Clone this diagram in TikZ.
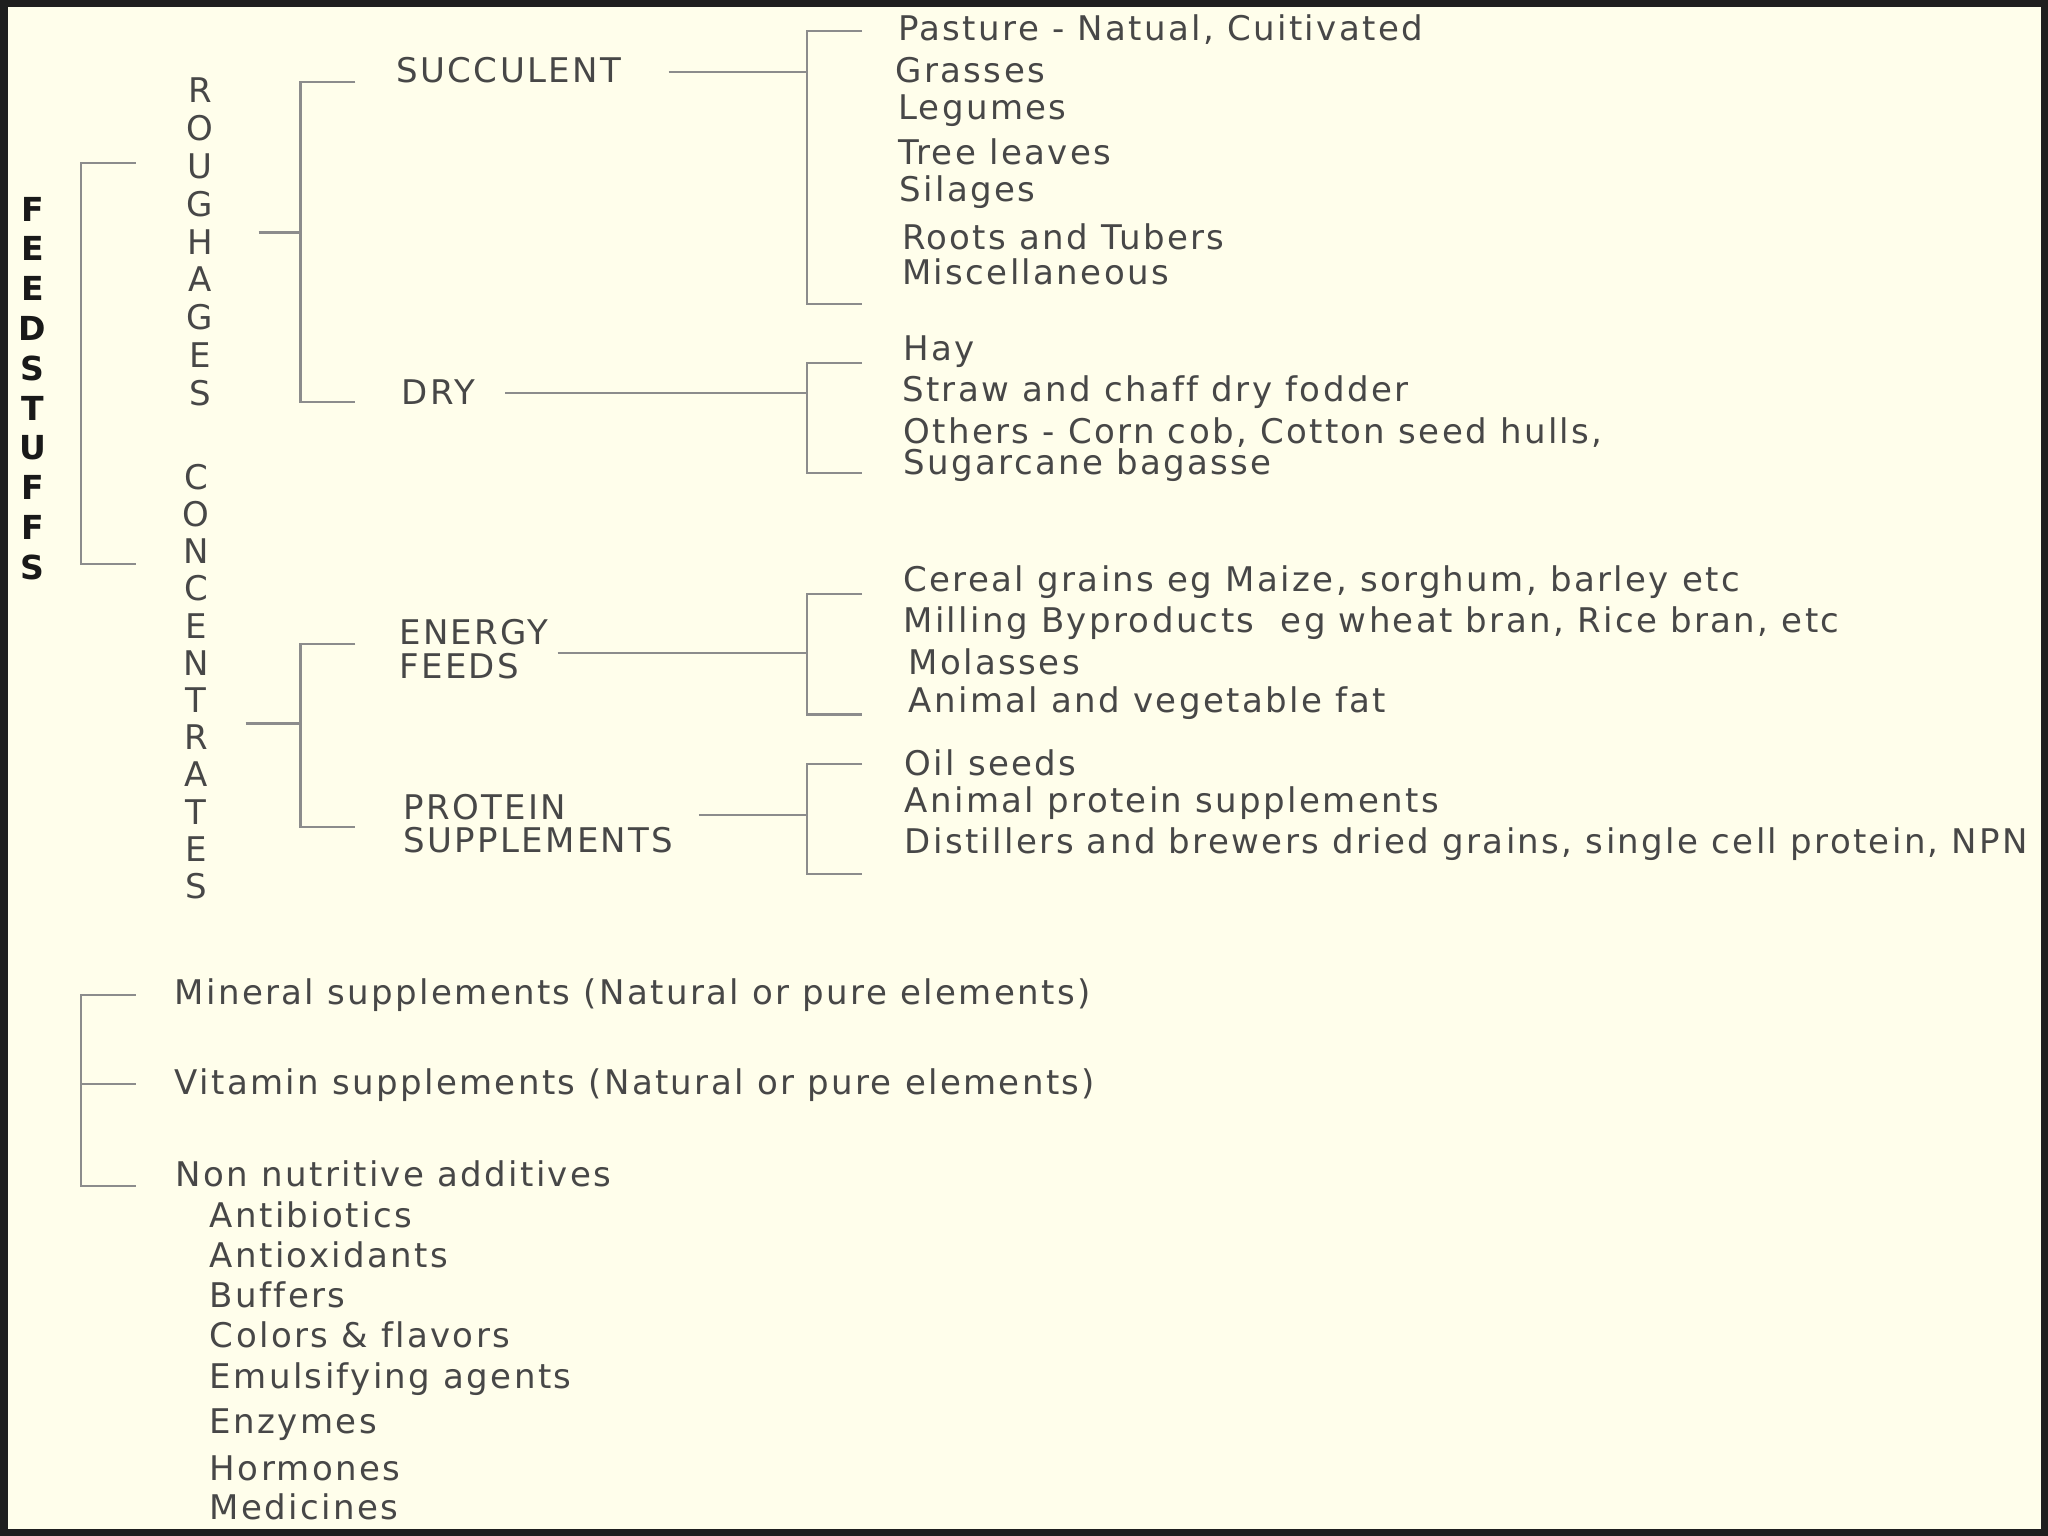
\documentclass[tikz,border=0pt]{standalone}
\usepackage{fontspec}
\setmainfont[LetterSpace=7,Ligatures={NoCommon}]{DejaVu Sans}
\begin{document}
\begin{tikzpicture}[x=0.01cm,y=-0.01cm,
  lbl/.style={anchor=west,inner sep=0pt,text=black!72,font=\fontsize{7.4}{8.6}\selectfont},
  vl/.style={inner sep=0pt,text=black!72,font=\fontsize{7.4}{8.6}\selectfont},
  br/.style={draw=black!45,line width=0.5pt}]
\fill[black!88] (0,0) rectangle (1568,1176);
\fill[yellow!8!white] (6,5) rectangle (1563,1171);
\useasboundingbox (0,0) rectangle (1568,1176);
% FEEDSTUFFS
\foreach \c [count=\i] in {F,E,E,D,S,T,U,F,F,S}
  \node[vl,font=\fontsize{7.2}{8.6}\selectfont\bfseries,text=black!90] (fs\i) at (25,{160+(\i-1)*30.5}) {\c};
\foreach \c [count=\i] in {R,O,U,G,H,A,G,E,S}
  \node[vl] (ro\i) at (153,{69+(\i-1)*29}) {\c};
\foreach \c [count=\i] in {C,O,N,C,E,N,T,R,A,T,E,S}
  \node[vl] (co\i) at (150,{365+(\i-1)*28.5}) {\c};
% main bracket
\coordinate (m1) at (104,125); \coordinate (m2) at (104,432);
\draw[br] (m1) -- (62,125) -- (62,432) -- (m2);
% roughages bracket
\coordinate (r0) at (198,178);
\draw[br] (r0) -- (230,178);
\draw[br] (272,63) -- (230,63) -- (230,308) -- (272,308);
\node[lbl] (succ) at (303,54) {SUCCULENT};
\node[lbl] (dry) at (307,300) {DRY};
\draw[br] (512,55) -- (618,55);
\draw[br] (660,24) -- (618,24) -- (618,233) -- (660,233);
\draw[br] (387,301) -- (618,301);
\draw[br] (660,278) -- (618,278) -- (618,362) -- (660,362);
\node[lbl] (s1) at (687,23) {Pasture - Natual, Cuitivated};
\node[lbl] (s2) at (685,54) {Grasses};
\node[lbl] (s3) at (687,85) {Legumes};
\node[lbl] (s4) at (687,116) {Tree leaves};
\node[lbl] (s5) at (688,147) {Silages};
\node[lbl] (s6) at (690,181) {Roots and Tubers};
\node[lbl] (s7) at (690,208) {Miscellaneous};
\node[lbl] (d1) at (691,269) {Hay};
\node[lbl] (d2) at (690,300) {Straw and chaff dry fodder};
\node[lbl] (d3) at (691,331) {Others - Corn cob, Cotton seed hulls,};
\node[lbl] (d4) at (691,356) {Sugarcane bagasse};
% concentrates
\draw[br] (188,554) -- (230,554);
\draw[br] (272,493) -- (230,493) -- (230,633) -- (272,633);
\node[lbl] (en1) at (305,484) {ENERGY};
\node[lbl] (en2) at (305,510) {FEEDS};
\node[lbl] (pr1) at (308,618) {PROTEIN};
\node[lbl] (pr2) at (308,643) {SUPPLEMENTS};
\draw[br] (427,500) -- (618,500);
\draw[br] (660,455) -- (618,455) -- (618,547) -- (660,547);
\draw[br] (535,624) -- (618,624);
\draw[br] (660,585) -- (618,585) -- (618,669) -- (660,669);
\node[lbl] (e1) at (691,446) {Cereal grains eg Maize, sorghum, barley etc};
\node[lbl] (e2) at (691,477) {Milling Byproducts\ \ eg wheat bran, Rice bran, etc};
\node[lbl] (e3) at (695,507) {Molasses};
\node[lbl] (e4) at (695,538) {Animal and vegetable fat};
\node[lbl] (p1) at (692,584) {Oil seeds};
\node[lbl] (p2) at (692,615) {Animal protein supplements};
\node[lbl] (p3) at (692,646) {Distillers and brewers dried grains, single cell protein, NPN};
% bottom
\draw[br] (104,762) -- (62,762) -- (62,908) -- (104,908);
\draw[br] (62,830) -- (104,830);
\node[lbl] (b1) at (133,762) {Mineral supplements (Natural or pure elements)};
\node[lbl] (b2) at (133,831) {Vitamin supplements (Natural or pure elements)};
\node[lbl] (b3) at (134,899) {Non nutritive additives};
\foreach \t/\y [count=\i] in {Antibiotics/930,Antioxidants/961,Buffers/991,Colors \& flavors/1022,Emulsifying agents/1056,Enzymes/1091,Hormones/1124,Medicines/1154}
  \node[lbl] (n\i) at (160,\y) {\t};
\end{tikzpicture}
\end{document}
